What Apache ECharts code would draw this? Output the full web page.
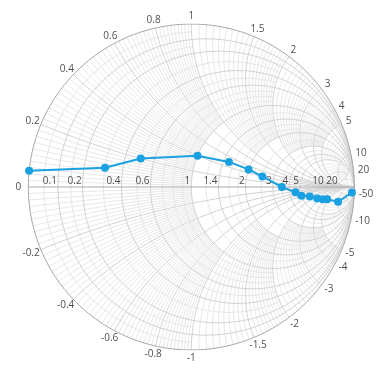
<!DOCTYPE html>
<html>
<head>
<meta charset="utf-8">
<script src="https://cdn.jsdelivr.net/npm/echarts@6/dist/echarts.min.js"></script>
<style>
  html, body { margin: 0; padding: 0; background: #fff; }
  #chart { width: 388px; height: 376px; }
</style>
</head>
<body>
<div id="chart"></div>
<script>
// ====================== data ======================
var resistance = [0, 0.3, 0.5, 1.0, 1.5, 2.0, 2.5, 3.5, 4.5, 5, 6, 7, 8, 9, 10, 20];
var reactance = [0.05, 0.1, 0.2, 0.4, 0.5, 0.5, 0.4, 0, -0.5, -1, -1.5, -2.5, -3.5, -4.5, -10, -50];

// axis labels
var rLabels = [0.1, 0.2, 0.4, 0.6, 1, 1.4, 2, 3, 4, 5, 10, 20];
var xLabels = [0.2, 0.4, 0.6, 0.8, 1, 1.5, 2, 3, 4, 5, 10, 20,
    -0.2, -0.4, -0.6, -0.8, -1, -1.5, -2, -3, -4, -5, -10, -50];

// major grid values
var rMajor = [0.1, 0.2, 0.4, 0.6, 1, 1.4, 2, 3, 4, 5, 10, 20];
var xMajor = [0.2, 0.4, 0.6, 0.8, 1, 1.5, 2, 3, 4, 5, 10, 20, 50];

var RADIUS = 163; // px, outer circle

// z = r + jx  ->  reflection coefficient
function gamma(r, x) {
    var d = (r + 1) * (r + 1) + x * x;
    return [(r * r + x * x - 1) / d, 2 * x / d];
}

// constant resistance arc, |x| <= xmax
function rArc(r, xmax) {
    var pts = [];
    var a = xmax === Infinity ? Math.PI / 2 : Math.atan(xmax / (r + 1));
    var n = 120;
    for (var i = 0; i <= n; i++) {
        var phi = -a + 2 * a * i / n;
        pts.push(gamma(r, (r + 1) * Math.tan(phi)));
    }
    return pts;
}

// constant reactance arc, 0 <= r <= rmax
function xArc(x, rmax) {
    var ax = Math.abs(x);
    var a1 = Math.atan(ax);
    var a0 = rmax === Infinity ? 0 : Math.atan(ax / (rmax + 1));
    var pts = [];
    var n = 80;
    for (var i = 0; i <= n; i++) {
        var phi = a0 + (a1 - a0) * i / n;
        var r = phi === 0 ? 1e9 : ax / Math.tan(phi) - 1;
        pts.push(gamma(Math.max(r, 0), x));
    }
    return pts;
}

// ====================== grid lines ======================
var majorLines = [];
rMajor.forEach(function (r) {
    majorLines.push({ coords: rArc(r, Infinity) });
});
xMajor.forEach(function (x) {
    majorLines.push({ coords: xArc(x, Infinity) });
    majorLines.push({ coords: xArc(-x, Infinity) });
});

var minorLines = [];
function inList(v, list) {
    for (var i = 0; i < list.length; i++) {
        if (Math.abs(list[i] - v) < 1e-6) return true;
    }
    return false;
}
// [from, to, step, limit]
var xMinorBands = [[0, 1, 0.02, 1], [1, 2, 0.05, 2], [2, 5, 0.1, 3], [5, 10, 0.5, 5], [10, 20, 1, 10]];
xMinorBands.forEach(function (b) {
    for (var v = b[0] + b[2]; v < b[1] - 1e-6; v += b[2]) {
        var x = Math.round(v * 1000) / 1000;
        if (inList(x, xMajor)) continue;
        minorLines.push({ coords: xArc(x, b[3]) });
        minorLines.push({ coords: xArc(-x, b[3]) });
    }
});
var rMinorBands = [[0, 0.2, 0.05, 1], [0.2, 1, 0.1, 2], [1, 2, 0.2, 3], [2, 5, 0.5, 5], [5, 10, 1, 10], [10, 20, 2, 20]];
rMinorBands.forEach(function (b) {
    for (var v = b[0] + b[2]; v < b[1] - 1e-6; v += b[2]) {
        var r = Math.round(v * 1000) / 1000;
        if (inList(r, rMajor)) continue;
        minorLines.push({ coords: rArc(r, b[3]) });
    }
});

var borderLines = [
    { coords: rArc(0, Infinity) },
    { coords: [[-1, 0], [1, 0]] }
];

// ====================== series data ======================
var traceData = resistance.map(function (r, i) {
    return gamma(r, reactance[i]);
});

function textWidth(s) {
    var w = 0;
    for (var i = 0; i < s.length; i++) {
        var c = s.charAt(i);
        w += c === '.' ? 2.6 : c === '-' ? 3.4 : 5.6;
    }
    return w;
}

var rLabelData = rLabels.map(function (r) {
    var g = gamma(r, 0);
    return { value: [g[0], 0, String(r)] };
});
rLabelData.push({
    value: [-1, 0, '0'],
    label: { position: 'left', distance: 7, offset: [0, 0] }
});

var k = (RADIUS + 2) / RADIUS;
var xLabelData = xLabels.map(function (x) {
    var g = gamma(0, x);
    var s = String(x);
    var gap = g[0] > 0.5 ? 2.5 : 0; // right side labels sit a bit further out
    return {
        value: [g[0] * k, g[1] * k, s],
        label: { position: [g[0] * (textWidth(s) / 2 + gap), -g[1] * 6] }
    };
});

// ====================== chart ======================
var chart = echarts.init(document.getElementById('chart'));
var option = {
    animation: false,
    grid: {
        left: 191.3 - RADIUS,
        top: 187 - RADIUS,
        width: RADIUS * 2,
        height: RADIUS * 2
    },
    xAxis: { type: 'value', min: -1, max: 1, show: false },
    yAxis: { type: 'value', min: -1, max: 1, show: false },
    series: [
        {
            type: 'lines',
            coordinateSystem: 'cartesian2d',
            polyline: true,
            silent: true,
            z: 1,
            lineStyle: { color: '#e6e6e6', width: 1, opacity: 1 },
            data: minorLines
        },
        {
            type: 'lines',
            coordinateSystem: 'cartesian2d',
            polyline: true,
            silent: true,
            z: 2,
            lineStyle: { color: '#d2d2d2', width: 1, opacity: 1 },
            data: majorLines
        },
        {
            type: 'lines',
            coordinateSystem: 'cartesian2d',
            polyline: true,
            silent: true,
            z: 3,
            lineStyle: { color: '#a9a9a9', width: 1, opacity: 1 },
            data: borderLines
        },
        {
            name: 'Transmission',
            type: 'line',
            z: 10,
            clip: false,
            data: traceData,
            symbol: 'circle',
            symbolSize: 8,
            itemStyle: { color: '#1ba1e2' },
            lineStyle: { color: '#1ba1e2', width: 2 }
        },
        {
            type: 'scatter',
            symbolSize: 0,
            silent: true,
            clip: false,
            z: 5,
            data: rLabelData,
            label: {
                show: true,
                position: 'left',
                distance: 1,
                offset: [0, -6],
                formatter: function (p) { return p.value[2]; },
                color: '#222',
                fontSize: 10,
                fontFamily: '"Segoe UI", "Open Sans", sans-serif'
            }
        },
        {
            type: 'scatter',
            symbolSize: 0,
            silent: true,
            clip: false,
            z: 5,
            data: xLabelData,
            label: {
                show: true,
                align: 'center',
                verticalAlign: 'middle',
                formatter: function (p) { return p.value[2]; },
                color: '#222',
                fontSize: 10,
                fontFamily: '"Segoe UI", "Open Sans", sans-serif'
            }
        }
    ]
};
chart.setOption(option);
</script>
</body>
</html>
